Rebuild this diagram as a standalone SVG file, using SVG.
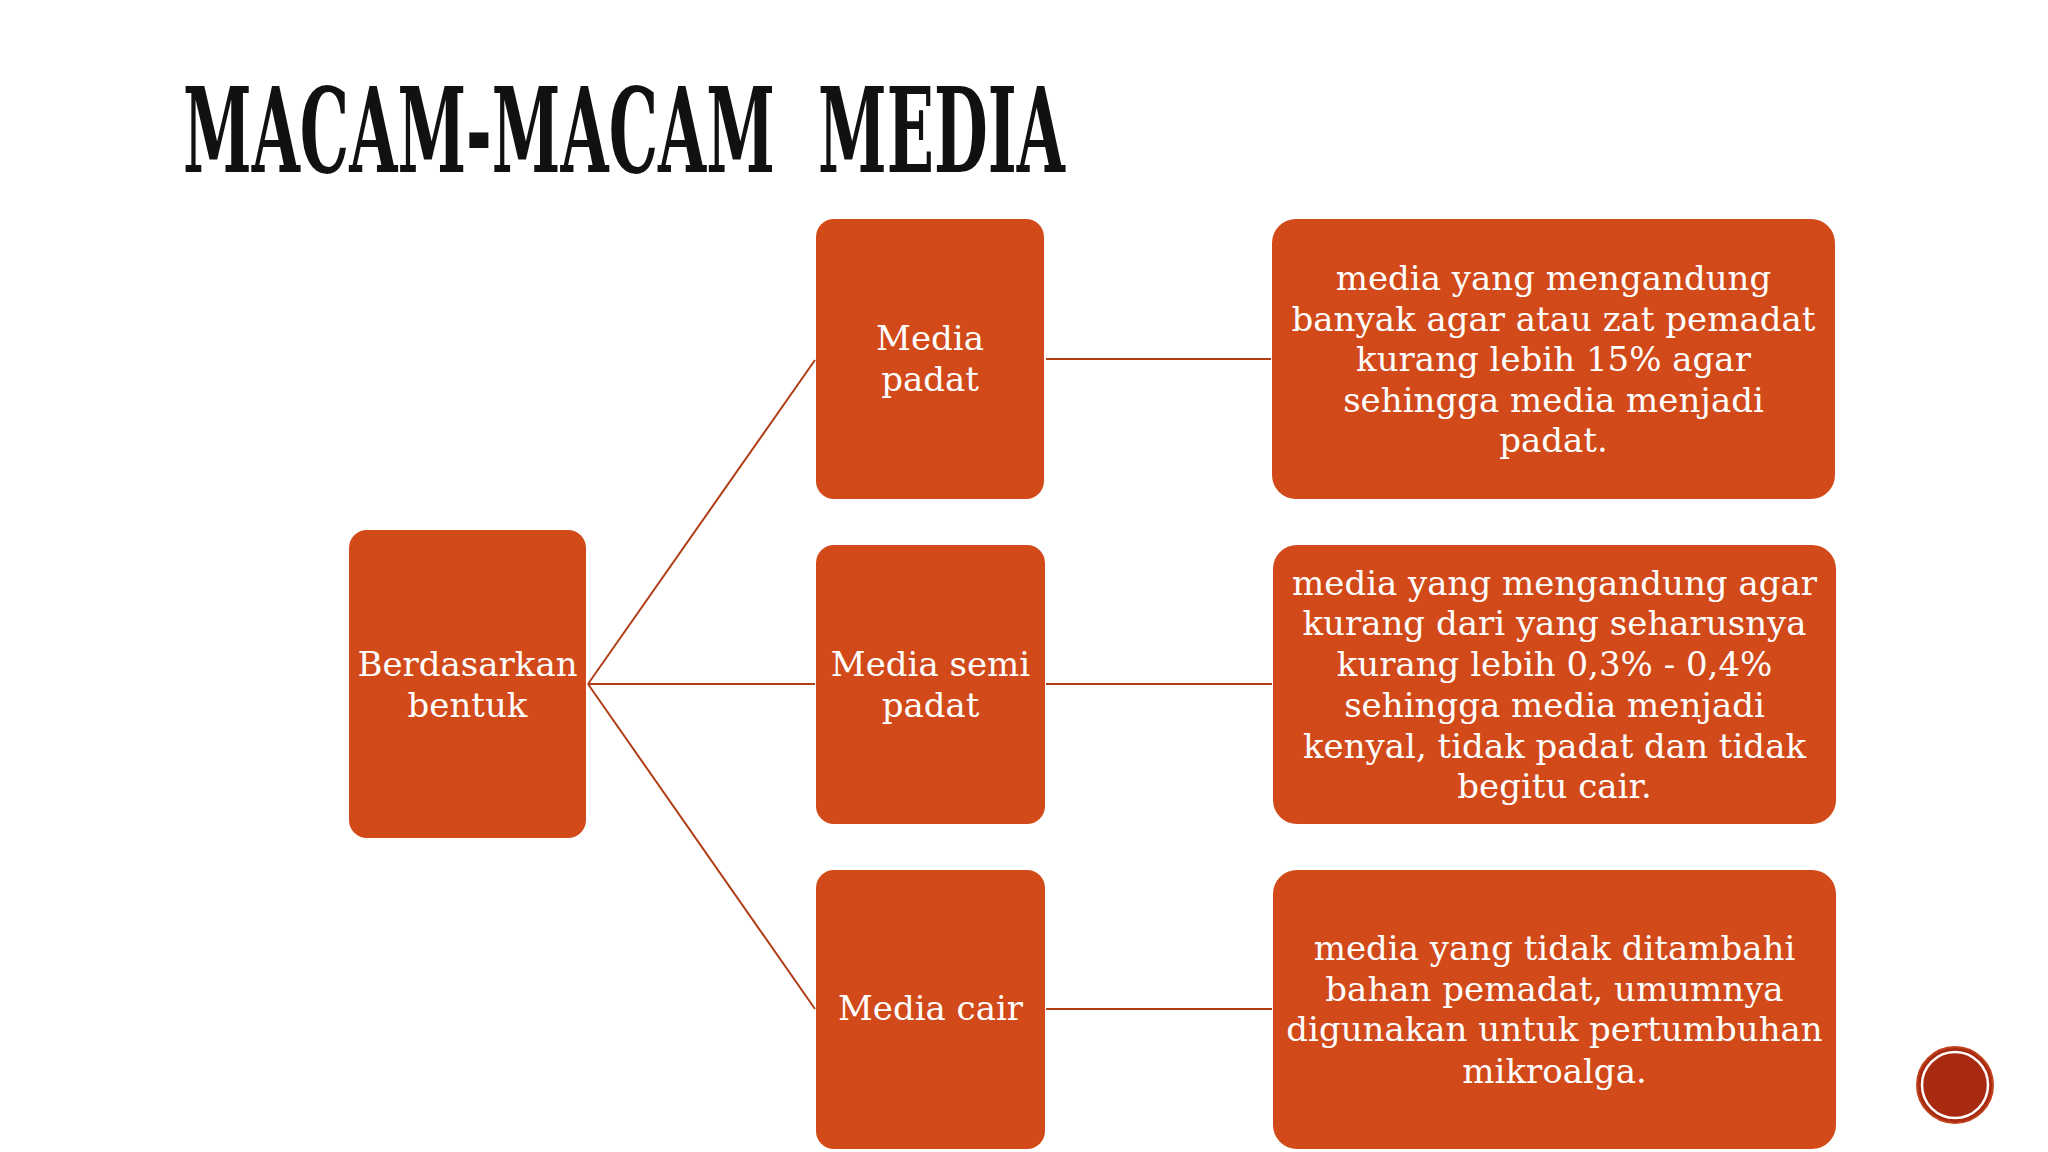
<svg xmlns="http://www.w3.org/2000/svg" width="2048" height="1152" viewBox="0 0 2048 1152">
<style>
.box{fill:#D24A19}
.t{font-family:"DejaVu Serif","Liberation Serif",serif;font-size:34px;fill:#FFFFFF;text-anchor:middle}
.c{stroke:#B03D15;stroke-width:2;fill:none}
.title{font-family:"DejaVu Serif Condensed","DejaVu Serif",serif;font-weight:bold;font-size:118px;fill:#111111}
</style>
<rect width="2048" height="1152" fill="#FFFFFF"/>
<text class="title" x="183" y="172" xml:space="preserve" textLength="882" lengthAdjust="spacingAndGlyphs">MACAM-MACAM  MEDIA</text>
<g id="connectors">
<line class="c" x1="588" y1="684" x2="815" y2="360"/>
<line class="c" x1="588" y1="684" x2="815" y2="684"/>
<line class="c" x1="588" y1="684" x2="815" y2="1009"/>
<line class="c" x1="1046" y1="359" x2="1271" y2="359"/>
<line class="c" x1="1046" y1="684" x2="1272" y2="684"/>
<line class="c" x1="1046" y1="1009" x2="1272" y2="1009"/>
</g>
<g id="berdasarkan">
<rect class="box" x="349" y="530" width="237" height="308" rx="18"/>
<text class="t" x="467.5" y="676">Berdasarkan</text>
<text class="t" x="467.5" y="717">bentuk</text>
</g>
<g id="media-padat">
<rect class="box" x="816" y="219" width="228" height="280" rx="18"/>
<text class="t" x="930" y="350">Media</text>
<text class="t" x="930" y="391">padat</text>
</g>
<g id="media-semi-padat">
<rect class="box" x="816" y="545" width="229" height="279" rx="18"/>
<text class="t" x="930.5" y="676">Media semi</text>
<text class="t" x="930.5" y="717">padat</text>
</g>
<g id="media-cair">
<rect class="box" x="816" y="870" width="229" height="279" rx="18"/>
<text class="t" x="930.5" y="1020">Media cair</text>
</g>
<g id="desc-padat">
<rect class="box" x="1272" y="219" width="563" height="280" rx="24"/>
<text class="t" x="1553.5" y="290">media yang mengandung</text>
<text class="t" x="1553.5" y="331">banyak agar atau zat pemadat</text>
<text class="t" x="1553.5" y="371">kurang lebih 15% agar</text>
<text class="t" x="1553.5" y="412">sehingga media menjadi</text>
<text class="t" x="1553.5" y="452">padat.</text>
</g>
<g id="desc-semi-padat">
<rect class="box" x="1273" y="545" width="563" height="279" rx="24"/>
<text class="t" x="1554.5" y="595">media yang mengandung agar</text>
<text class="t" x="1554.5" y="635">kurang dari yang seharusnya</text>
<text class="t" x="1554.5" y="676">kurang lebih 0,3% - 0,4%</text>
<text class="t" x="1554.5" y="717">sehingga media menjadi</text>
<text class="t" x="1554.5" y="758">kenyal, tidak padat dan tidak</text>
<text class="t" x="1554.5" y="798">begitu cair.</text>
</g>
<g id="desc-cair">
<rect class="box" x="1273" y="870" width="563" height="279" rx="24"/>
<text class="t" x="1554.5" y="960">media yang tidak ditambahi</text>
<text class="t" x="1554.5" y="1001">bahan pemadat, umumnya</text>
<text class="t" x="1554.5" y="1041">digunakan untuk pertumbuhan</text>
<text class="t" x="1554.5" y="1083">mikroalga.</text>
</g>
<g id="badge">
<circle cx="1955" cy="1085" r="38" fill="#A82A10" stroke="#C0401C" stroke-width="2"/>
<circle cx="1955" cy="1085" r="33" fill="none" stroke="#FFFFFF" stroke-width="2.5"/>
</g>
</svg>
